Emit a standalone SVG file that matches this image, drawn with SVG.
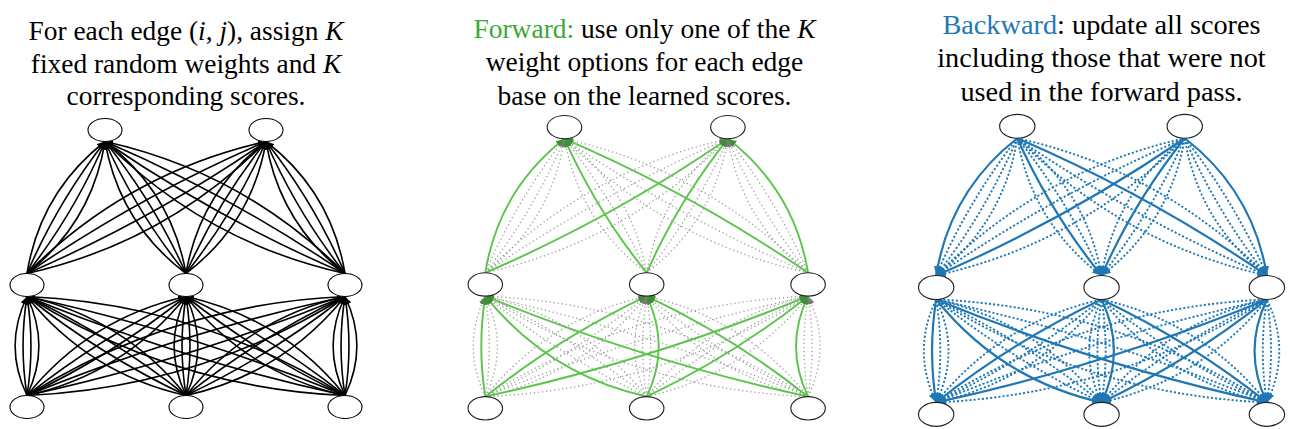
<svg xmlns="http://www.w3.org/2000/svg" width="1290" height="429" viewBox="0 0 1290 429">
<defs>
<marker id="ak" markerUnits="userSpaceOnUse" markerWidth="9" markerHeight="7" refX="8" refY="3.5" orient="auto"><path d="M0,0.5 L8,3.5 L0,6.5z" fill="#000"/></marker>
<marker id="ag" markerUnits="userSpaceOnUse" markerWidth="10" markerHeight="8" refX="8.5" refY="4" orient="auto"><path d="M0,0.5 L8.5,4 L0,7.5z" fill="#3e8f37"/></marker>
<marker id="ay" markerUnits="userSpaceOnUse" markerWidth="9" markerHeight="7" refX="8" refY="3.5" orient="auto"><path d="M0,0.5 L8,3.5 L0,6.5z" fill="#7a7a7a"/></marker>
<marker id="ab" markerUnits="userSpaceOnUse" markerWidth="11" markerHeight="8" refX="9" refY="4" orient="auto-start-reverse"><path d="M0,0.5 L9,4 L0,7.5z" fill="#1f77b4"/></marker>
</defs>
<style>
text{font-family:"Liberation Serif","Times New Roman",serif;text-anchor:middle;fill:#000}
.it{font-style:italic}
.node ellipse{fill:#fff;stroke:#000;stroke-width:1.1}
.n2 ellipse,.n3 ellipse{stroke:#222}
.e1 path{fill:none;stroke:#000;stroke-width:1.6;marker-end:url(#ak)}
.e2 path.o{fill:none;stroke:#9a9a9a;stroke-width:1.3;stroke-dasharray:1.2 2.8;marker-end:url(#ay)}
.e2 path.s{fill:none;stroke:#5ec44e;stroke-width:1.9;marker-end:url(#ag)}
.e3 path.o{fill:none;stroke:#1f77b4;stroke-width:1.8;stroke-dasharray:2 2;marker-start:url(#ab)}
.e3 path.s{fill:none;stroke:#1f77b4;stroke-width:2.1;marker-start:url(#ab)}
</style>
<rect width="1290" height="429" fill="#fff"/>

<g id="captions">
<text font-size="27.4"><tspan x="186" y="39.5">For each edge (<tspan class="it">i</tspan>, <tspan class="it">j</tspan>), assign <tspan class="it">K</tspan></tspan><tspan x="186" y="72.5">fixed random weights and <tspan class="it">K</tspan></tspan><tspan x="186" y="105">corresponding scores.</tspan></text>
<text font-size="27.5"><tspan x="644.5" y="37.5"><tspan fill="#3aaa35">Forward:</tspan> use only one of the <tspan class="it">K</tspan></tspan><tspan x="644.5" y="71">weight options for each edge</tspan><tspan x="644.5" y="104.5">base on the learned scores.</tspan></text>
<text font-size="28.3"><tspan x="1101.5" y="33.5"><tspan fill="#1f7ab4">Backward</tspan>: update all scores</tspan><tspan x="1101.5" y="67">including those that were not</tspan><tspan x="1101.5" y="100.5">used in the forward pass.</tspan></text>
</g>

<!-- Panel 1 -->
<g id="panel1">
<g id="connectors1" class="e1">
<path class="o" d="M27,273.5Q57.42,202.43 105,141.5"/><path class="o" d="M27,273.5Q74.58,212.57 105,141.5"/><path class="o" d="M27,273.5Q91.87,222.79 105,141.5"/>
<path class="o" d="M27,273.5Q127.23,172.61 266,141.5"/><path class="o" d="M27,273.5Q140.03,195.79 266,141.5"/><path class="o" d="M27,273.5Q165.77,242.39 266,141.5"/>
<path class="o" d="M186,273.5Q119.63,223.38 105,141.5"/><path class="o" d="M186,273.5Q154.08,202.23 105,141.5"/><path class="o" d="M186,273.5Q171.37,191.62 105,141.5"/>
<path class="o" d="M186,273.5Q200.13,191.82 266,141.5"/><path class="o" d="M186,273.5Q234.58,212.7 266,141.5"/><path class="o" d="M186,273.5Q251.87,223.18 266,141.5"/>
<path class="o" d="M345,273.5Q205.73,242.54 105,141.5"/><path class="o" d="M345,273.5Q218.53,219.26 105,141.5"/><path class="o" d="M345,273.5Q244.27,172.46 105,141.5"/>
<path class="o" d="M345,273.5Q279.63,222.98 266,141.5"/><path class="o" d="M345,273.5Q296.92,212.64 266,141.5"/><path class="o" d="M345,273.5Q314.08,202.36 266,141.5"/>
<path class="o" d="M27,395.5Q3.24,346 27,296.5"/><path class="o" d="M27,395.5Q34.92,346 27,296.5"/><path class="o" d="M27,395.5Q50.76,346 27,296.5"/>
<path class="o" d="M27,395.5Q89.17,318.17 186,296.5"/><path class="o" d="M27,395.5Q112.24,355.22 186,296.5"/><path class="o" d="M27,395.5Q123.83,373.83 186,296.5"/>
<path class="o" d="M27,395.5Q172.93,304.02 345,296.5"/><path class="o" d="M27,395.5Q181.64,332.01 345,296.5"/><path class="o" d="M27,395.5Q199.07,387.98 345,296.5"/>
<path class="o" d="M186,395.5Q100.76,355.22 27,296.5"/><path class="o" d="M186,395.5Q112.24,336.78 27,296.5"/><path class="o" d="M186,395.5Q123.83,318.17 27,296.5"/>
<path class="o" d="M186,395.5Q162.24,346 186,296.5"/><path class="o" d="M186,395.5Q178.08,346 186,296.5"/><path class="o" d="M186,395.5Q193.92,346 186,296.5"/>
<path class="o" d="M186,395.5Q248.17,318.17 345,296.5"/><path class="o" d="M186,395.5Q259.76,336.78 345,296.5"/><path class="o" d="M186,395.5Q282.83,373.83 345,296.5"/>
<path class="o" d="M345,395.5Q172.93,387.98 27,296.5"/><path class="o" d="M345,395.5Q190.36,332.01 27,296.5"/><path class="o" d="M345,395.5Q199.07,304.02 27,296.5"/>
<path class="o" d="M345,395.5Q248.17,373.83 186,296.5"/><path class="o" d="M345,395.5Q259.76,355.22 186,296.5"/><path class="o" d="M345,395.5Q282.83,318.17 186,296.5"/>
<path class="o" d="M345,395.5Q337.08,346 345,296.5"/><path class="o" d="M345,395.5Q352.92,346 345,296.5"/><path class="o" d="M345,395.5Q368.76,346 345,296.5"/>
<path class="s" d="M27,273.5Q40.13,192.21 105,141.5"/><path class="s" d="M27,273.5Q152.97,219.21 266,141.5"/><path class="s" d="M186,273.5Q136.92,212.77 105,141.5"/>
<path class="s" d="M186,273.5Q217.42,202.3 266,141.5"/><path class="s" d="M345,273.5Q231.47,195.74 105,141.5"/><path class="s" d="M345,273.5Q331.37,192.02 266,141.5"/>
<path class="s" d="M27,395.5Q19.08,346 27,296.5"/><path class="s" d="M27,395.5Q100.76,336.78 186,296.5"/><path class="s" d="M27,395.5Q190.36,359.99 345,296.5"/>
<path class="s" d="M186,395.5Q89.17,373.83 27,296.5"/><path class="s" d="M186,395.5Q209.76,346 186,296.5"/><path class="s" d="M186,395.5Q271.24,355.22 345,296.5"/>
<path class="s" d="M345,395.5Q181.64,359.99 27,296.5"/><path class="s" d="M345,395.5Q271.24,336.78 186,296.5"/><path class="s" d="M345,395.5Q321.24,346 345,296.5"/>
</g>
<g class="node n1" id="p1-t1"><ellipse cx="105" cy="130" rx="17" ry="11.5"/></g>
<g class="node n1" id="p1-t2"><ellipse cx="266" cy="130" rx="17" ry="11.5"/></g>
<g class="node n1" id="p1-m1"><ellipse cx="27" cy="285" rx="17" ry="11.5"/></g>
<g class="node n1" id="p1-m2"><ellipse cx="186" cy="285" rx="17" ry="11.5"/></g>
<g class="node n1" id="p1-m3"><ellipse cx="345" cy="285" rx="17" ry="11.5"/></g>
<g class="node n1" id="p1-b1"><ellipse cx="27" cy="407" rx="17" ry="11.5"/></g>
<g class="node n1" id="p1-b2"><ellipse cx="186" cy="407" rx="17" ry="11.5"/></g>
<g class="node n1" id="p1-b3"><ellipse cx="345" cy="407" rx="17" ry="11.5"/></g>
</g>

<!-- Panel 2 -->
<g id="panel2" transform="matrix(1.015 0 0 1.015 457.9 -4.8)">
<g id="connectors2" class="e2">
<path class="o" d="M27,273.5Q57.42,202.43 105,141.5"/><path class="o" d="M27,273.5Q74.58,212.57 105,141.5"/><path class="o" d="M27,273.5Q91.87,222.79 105,141.5"/>
<path class="o" d="M27,273.5Q127.23,172.61 266,141.5"/><path class="o" d="M27,273.5Q140.03,195.79 266,141.5"/><path class="o" d="M27,273.5Q165.77,242.39 266,141.5"/>
<path class="o" d="M186,273.5Q119.63,223.38 105,141.5"/><path class="o" d="M186,273.5Q154.08,202.23 105,141.5"/><path class="o" d="M186,273.5Q171.37,191.62 105,141.5"/>
<path class="o" d="M186,273.5Q200.13,191.82 266,141.5"/><path class="o" d="M186,273.5Q234.58,212.7 266,141.5"/><path class="o" d="M186,273.5Q251.87,223.18 266,141.5"/>
<path class="o" d="M345,273.5Q205.73,242.54 105,141.5"/><path class="o" d="M345,273.5Q218.53,219.26 105,141.5"/><path class="o" d="M345,273.5Q244.27,172.46 105,141.5"/>
<path class="o" d="M345,273.5Q279.63,222.98 266,141.5"/><path class="o" d="M345,273.5Q296.92,212.64 266,141.5"/><path class="o" d="M345,273.5Q314.08,202.36 266,141.5"/>
<path class="o" d="M27,395.5Q3.24,346 27,296.5"/><path class="o" d="M27,395.5Q34.92,346 27,296.5"/><path class="o" d="M27,395.5Q50.76,346 27,296.5"/>
<path class="o" d="M27,395.5Q89.17,318.17 186,296.5"/><path class="o" d="M27,395.5Q112.24,355.22 186,296.5"/><path class="o" d="M27,395.5Q123.83,373.83 186,296.5"/>
<path class="o" d="M27,395.5Q172.93,304.02 345,296.5"/><path class="o" d="M27,395.5Q181.64,332.01 345,296.5"/><path class="o" d="M27,395.5Q199.07,387.98 345,296.5"/>
<path class="o" d="M186,395.5Q100.76,355.22 27,296.5"/><path class="o" d="M186,395.5Q112.24,336.78 27,296.5"/><path class="o" d="M186,395.5Q123.83,318.17 27,296.5"/>
<path class="o" d="M186,395.5Q162.24,346 186,296.5"/><path class="o" d="M186,395.5Q178.08,346 186,296.5"/><path class="o" d="M186,395.5Q193.92,346 186,296.5"/>
<path class="o" d="M186,395.5Q248.17,318.17 345,296.5"/><path class="o" d="M186,395.5Q259.76,336.78 345,296.5"/><path class="o" d="M186,395.5Q282.83,373.83 345,296.5"/>
<path class="o" d="M345,395.5Q172.93,387.98 27,296.5"/><path class="o" d="M345,395.5Q190.36,332.01 27,296.5"/><path class="o" d="M345,395.5Q199.07,304.02 27,296.5"/>
<path class="o" d="M345,395.5Q248.17,373.83 186,296.5"/><path class="o" d="M345,395.5Q259.76,355.22 186,296.5"/><path class="o" d="M345,395.5Q282.83,318.17 186,296.5"/>
<path class="o" d="M345,395.5Q337.08,346 345,296.5"/><path class="o" d="M345,395.5Q352.92,346 345,296.5"/><path class="o" d="M345,395.5Q368.76,346 345,296.5"/>
<path class="s" d="M27,273.5Q40.13,192.21 105,141.5"/><path class="s" d="M27,273.5Q152.97,219.21 266,141.5"/><path class="s" d="M186,273.5Q136.92,212.77 105,141.5"/>
<path class="s" d="M186,273.5Q217.42,202.3 266,141.5"/><path class="s" d="M345,273.5Q231.47,195.74 105,141.5"/><path class="s" d="M345,273.5Q331.37,192.02 266,141.5"/>
<path class="s" d="M27,395.5Q19.08,346 27,296.5"/><path class="s" d="M27,395.5Q100.76,336.78 186,296.5"/><path class="s" d="M27,395.5Q190.36,359.99 345,296.5"/>
<path class="s" d="M186,395.5Q89.17,373.83 27,296.5"/><path class="s" d="M186,395.5Q209.76,346 186,296.5"/><path class="s" d="M186,395.5Q271.24,355.22 345,296.5"/>
<path class="s" d="M345,395.5Q181.64,359.99 27,296.5"/><path class="s" d="M345,395.5Q271.24,336.78 186,296.5"/><path class="s" d="M345,395.5Q321.24,346 345,296.5"/>
</g>
<g class="node n2" id="p2-t1"><ellipse cx="105" cy="130" rx="17" ry="11.5"/></g>
<g class="node n2" id="p2-t2"><ellipse cx="266" cy="130" rx="17" ry="11.5"/></g>
<g class="node n2" id="p2-m1"><ellipse cx="27" cy="285" rx="17" ry="11.5"/></g>
<g class="node n2" id="p2-m2"><ellipse cx="186" cy="285" rx="17" ry="11.5"/></g>
<g class="node n2" id="p2-m3"><ellipse cx="345" cy="285" rx="17" ry="11.5"/></g>
<g class="node n2" id="p2-b1"><ellipse cx="27" cy="407" rx="17" ry="11.5"/></g>
<g class="node n2" id="p2-b2"><ellipse cx="186" cy="407" rx="17" ry="11.5"/></g>
<g class="node n2" id="p2-b3"><ellipse cx="345" cy="407" rx="17" ry="11.5"/></g>
</g>

<!-- Panel 3 -->
<g id="panel3" transform="matrix(1.04 0 0 1.04 908.1 -8.9)">
<g id="connectors3" class="e3">
<path class="o" d="M27,273.5Q57.42,202.43 105,141.5"/><path class="o" d="M27,273.5Q74.58,212.57 105,141.5"/><path class="o" d="M27,273.5Q91.87,222.79 105,141.5"/>
<path class="o" d="M27,273.5Q127.23,172.61 266,141.5"/><path class="o" d="M27,273.5Q140.03,195.79 266,141.5"/><path class="o" d="M27,273.5Q165.77,242.39 266,141.5"/>
<path class="o" d="M186,273.5Q119.63,223.38 105,141.5"/><path class="o" d="M186,273.5Q154.08,202.23 105,141.5"/><path class="o" d="M186,273.5Q171.37,191.62 105,141.5"/>
<path class="o" d="M186,273.5Q200.13,191.82 266,141.5"/><path class="o" d="M186,273.5Q234.58,212.7 266,141.5"/><path class="o" d="M186,273.5Q251.87,223.18 266,141.5"/>
<path class="o" d="M345,273.5Q205.73,242.54 105,141.5"/><path class="o" d="M345,273.5Q218.53,219.26 105,141.5"/><path class="o" d="M345,273.5Q244.27,172.46 105,141.5"/>
<path class="o" d="M345,273.5Q279.63,222.98 266,141.5"/><path class="o" d="M345,273.5Q296.92,212.64 266,141.5"/><path class="o" d="M345,273.5Q314.08,202.36 266,141.5"/>
<path class="o" d="M27,395.5Q3.24,346 27,296.5"/><path class="o" d="M27,395.5Q34.92,346 27,296.5"/><path class="o" d="M27,395.5Q50.76,346 27,296.5"/>
<path class="o" d="M27,395.5Q89.17,318.17 186,296.5"/><path class="o" d="M27,395.5Q112.24,355.22 186,296.5"/><path class="o" d="M27,395.5Q123.83,373.83 186,296.5"/>
<path class="o" d="M27,395.5Q172.93,304.02 345,296.5"/><path class="o" d="M27,395.5Q181.64,332.01 345,296.5"/><path class="o" d="M27,395.5Q199.07,387.98 345,296.5"/>
<path class="o" d="M186,395.5Q100.76,355.22 27,296.5"/><path class="o" d="M186,395.5Q112.24,336.78 27,296.5"/><path class="o" d="M186,395.5Q123.83,318.17 27,296.5"/>
<path class="o" d="M186,395.5Q162.24,346 186,296.5"/><path class="o" d="M186,395.5Q178.08,346 186,296.5"/><path class="o" d="M186,395.5Q193.92,346 186,296.5"/>
<path class="o" d="M186,395.5Q248.17,318.17 345,296.5"/><path class="o" d="M186,395.5Q259.76,336.78 345,296.5"/><path class="o" d="M186,395.5Q282.83,373.83 345,296.5"/>
<path class="o" d="M345,395.5Q172.93,387.98 27,296.5"/><path class="o" d="M345,395.5Q190.36,332.01 27,296.5"/><path class="o" d="M345,395.5Q199.07,304.02 27,296.5"/>
<path class="o" d="M345,395.5Q248.17,373.83 186,296.5"/><path class="o" d="M345,395.5Q259.76,355.22 186,296.5"/><path class="o" d="M345,395.5Q282.83,318.17 186,296.5"/>
<path class="o" d="M345,395.5Q337.08,346 345,296.5"/><path class="o" d="M345,395.5Q352.92,346 345,296.5"/><path class="o" d="M345,395.5Q368.76,346 345,296.5"/>
<path class="s" d="M27,273.5Q40.13,192.21 105,141.5"/><path class="s" d="M27,273.5Q152.97,219.21 266,141.5"/><path class="s" d="M186,273.5Q136.92,212.77 105,141.5"/>
<path class="s" d="M186,273.5Q217.42,202.3 266,141.5"/><path class="s" d="M345,273.5Q231.47,195.74 105,141.5"/><path class="s" d="M345,273.5Q331.37,192.02 266,141.5"/>
<path class="s" d="M27,395.5Q19.08,346 27,296.5"/><path class="s" d="M27,395.5Q100.76,336.78 186,296.5"/><path class="s" d="M27,395.5Q190.36,359.99 345,296.5"/>
<path class="s" d="M186,395.5Q89.17,373.83 27,296.5"/><path class="s" d="M186,395.5Q209.76,346 186,296.5"/><path class="s" d="M186,395.5Q271.24,355.22 345,296.5"/>
<path class="s" d="M345,395.5Q181.64,359.99 27,296.5"/><path class="s" d="M345,395.5Q271.24,336.78 186,296.5"/><path class="s" d="M345,395.5Q321.24,346 345,296.5"/>
</g>
<g class="node n3" id="p3-t1"><ellipse cx="105" cy="130" rx="17" ry="11.5"/></g>
<g class="node n3" id="p3-t2"><ellipse cx="266" cy="130" rx="17" ry="11.5"/></g>
<g class="node n3" id="p3-m1"><ellipse cx="27" cy="285" rx="17" ry="11.5"/></g>
<g class="node n3" id="p3-m2"><ellipse cx="186" cy="285" rx="17" ry="11.5"/></g>
<g class="node n3" id="p3-m3"><ellipse cx="345" cy="285" rx="17" ry="11.5"/></g>
<g class="node n3" id="p3-b1"><ellipse cx="27" cy="407" rx="17" ry="11.5"/></g>
<g class="node n3" id="p3-b2"><ellipse cx="186" cy="407" rx="17" ry="11.5"/></g>
<g class="node n3" id="p3-b3"><ellipse cx="345" cy="407" rx="17" ry="11.5"/></g>
</g>
</svg>
